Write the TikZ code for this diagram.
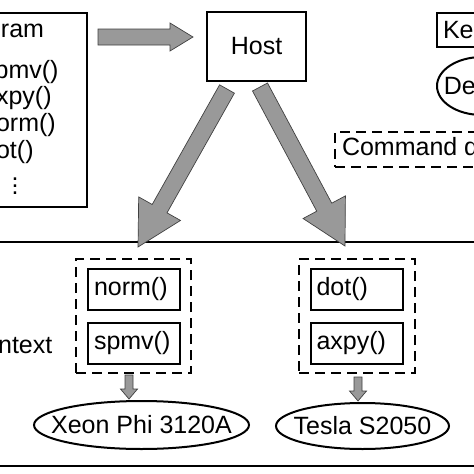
\documentclass[tikz,border=0pt]{standalone}
\usepackage{fontspec}
\setmainfont{Liberation Sans}
\usetikzlibrary{calc,positioning,shapes.geometric}

\newcommand{\fatarrow}[5]{%
  \draw[fat] let \p1=(#1), \p2=(#2),
      \n1={atan2(\y2-\y1,\x2-\x1)}, \n2={veclen(\x2-\x1,\y2-\y1)} in
    [shift={(\p1)}, rotate=\n1]
    (0pt,-#3pt) -- ({\n2-#5pt},-#3pt) -- ({\n2-#5pt},-#4pt) -- (\n2,0pt)
    -- ({\n2-#5pt},#4pt) -- ({\n2-#5pt},#3pt) -- (0pt,#3pt) -- cycle;}
\newcommand{\morefns}{\vbox{\baselineskip=7pt\lineskiplimit=0pt\hbox{.}\hbox{.}\hbox{.}}}

\begin{document}
\begin{tikzpicture}[
    x=1pt, y=-1pt,
    node distance=11pt and 12pt,
    base/.style={draw, line width=2pt, font=\fontsize{25}{30}\selectfont, inner sep=0pt},
    box/.style={base, rectangle},
    fnbox/.style={base, text width=80pt, inner xsep=6pt, minimum height=41pt, align=left},
    device/.style={base, ellipse, inner xsep=-40pt, inner ysep=-10pt},
    group/.style={base, dashed, dash pattern=on 10pt off 6pt},
    label/.style={font=\fontsize{25}{30}\selectfont, inner sep=0pt, anchor=base west},
    fat/.style={fill=black!40, draw=black!75, line width=0.7pt}
]
\path[use as bounding box, clip] (0,0) rectangle (474,474);
\node[box, minimum width=800pt, minimum height=224pt, anchor=north west] (context) at (-200,241) {};
\node[label] (contextlabel) at (-34,353) {Context};
\node[box, minimum width=200pt, minimum height=194pt, anchor=north east] (program) at (88,12) {};
\node[label] (programlabel) at (-52,37) {Program};
\node[label] (pspmv) at (-18,78) {spmv()};
\node[label] (paxpy) at (-18,104) {axpy()};
\node[label] (pnorm) at (-18,131) {norm()};
\node[label] (pdot) at (-18,158) {dot()};
\node[font=\fontsize{25}{30}\selectfont, inner sep=0pt] (pmore) at (15,186) {\morefns};
\node[box, minimum width=99pt, minimum height=69pt] (host) at (256.5,46.5) {Host};
\node[box, minimum height=34pt, inner xsep=6pt, anchor=north west] (kernel) at (436,12) {Kernel};
\node[device, minimum width=90pt, minimum height=58pt, anchor=west] (device) at (436,86) {Device};
\node[group, minimum height=35pt, inner xsep=7pt, anchor=west] (cmdqueue) at (334,149.5) {Command queue};
\node[fnbox] (norm) at (134,289.5) {norm()};
\node[fnbox, below=of norm] (spmv) {spmv()};
\node[fnbox] (dot) at (356.5,289.5) {dot()};
\node[fnbox, below=of dot] (axpy) {axpy()};
\node[group, minimum width=115pt, minimum height=114pt] (queuephi) at (133.5,316) {};
\node[group, minimum width=116pt, minimum height=114pt] (queuetesla) at (357,316) {};
\node[device, minimum width=215pt, minimum height=48pt] (xeon) at (141.5,425) {Xeon Phi 3120A};
\node[device, minimum width=173pt, minimum height=46pt] (tesla) at (362.5,426) {Tesla S2050};
\coordinate (progout) at (98,37);
\coordinate (hostin) at (193,37);
\coordinate (hostoutl) at (227,89);
\coordinate (phiin) at (138,247);
\coordinate (hostoutr) at (260,87);
\coordinate (teslain) at (345,246);
\coordinate (phiout) at (129,375);
\coordinate (xeonin) at (129,399);
\coordinate (teslaout) at (358,377);
\coordinate (teslaend) at (358,401);
\fatarrow{progout}{hostin}{8}{14}{23}
\fatarrow{hostoutl}{phiin}{8.5}{24}{44}
\fatarrow{hostoutr}{teslain}{8.5}{24}{44}
\fatarrow{phiout}{xeonin}{4}{8.5}{10}
\fatarrow{teslaout}{teslaend}{4}{8.5}{10}
\end{tikzpicture}
\end{document}
